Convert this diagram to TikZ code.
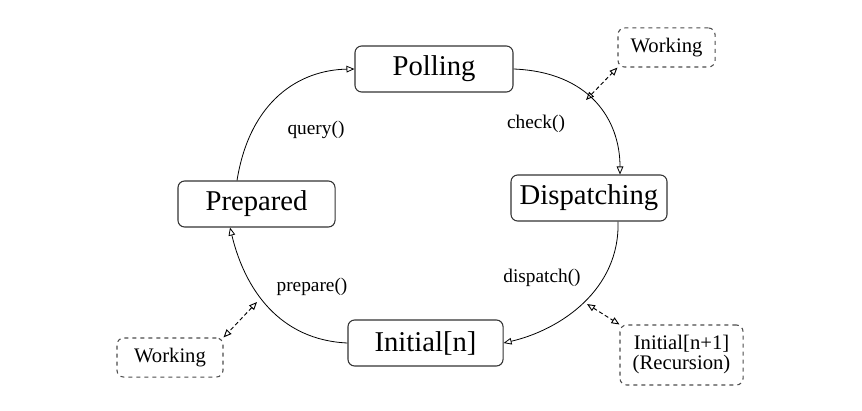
\documentclass[tikz,border=0pt]{standalone}
\usepackage{fontspec}
\setmainfont{Liberation Serif}
\usetikzlibrary{arrows.meta}
\begin{document}
\begin{tikzpicture}[x=0.75pt,y=-0.75pt,
 st/.style={draw=black!80,rounded corners=5pt,line width=0.8pt,fill=white,inner sep=0pt,font=\fontsize{21.5}{23}\selectfont},
 wk/.style={draw=black!70,dashed,rounded corners=5pt,line width=0.8pt,inner sep=0pt,font=\fontsize{15.5}{15}\selectfont,align=center},
 tr/.style={line width=0.6pt,-{Triangle[open,length=6pt,width=5pt]}},
 dd/.style={line width=0.7pt,dash pattern=on 3pt off 2pt,{Triangle[open,length=6pt,width=5pt]}-{Triangle[open,length=6pt,width=5pt]}},
 lb/.style={font=\fontsize{14.5}{16}\selectfont}]
\useasboundingbox (0,0) rectangle (862,410);
\node[st,minimum width=118.5pt,minimum height=34.5pt] (poll) at (434,69) {Polling};
\node[st,minimum width=117.8pt,minimum height=34.5pt] (prep) at (256.5,204) {Prepared};
\node[st,minimum width=117pt,minimum height=34.5pt] (disp) at (589,198) {Dispatching};
\node[st,minimum width=116.3pt,minimum height=34.5pt] (init) at (425.5,343) {Initial[n]};
\node[wk,minimum width=72.8pt,minimum height=29.3pt] (w1) at (666.5,47.5) {Working};
\node[wk,minimum width=79.5pt,minimum height=29.3pt] (w2) at (170,357.5) {Working};
\node[wk,minimum width=92.3pt,minimum height=45pt] (rec) at (681.5,355) {Initial[n+1]\\(Recursion)};
\draw[tr] (poll.east) .. controls (590,72) and (620,120) .. (disp.north-|620,0);
\draw[tr] (disp.south-|618,0) .. controls (620,290) and (560,330) .. (init.east);
\draw[tr] (init.west) .. controls (280,340) and (245,290) .. (prep.south-|230,0);
\draw[tr] (prep.north-|237,0) .. controls (250,100) and (300,70) .. (poll.west);
\coordinate (a1) at (586,100);
\coordinate (a2) at (257,302);
\coordinate (a3) at (587,304);
\draw[dd] (a1) -- (w1.south west);
\draw[dd] (a2) -- (w2.north east);
\draw[dd] (a3) -- (rec.north west);
\node[lb] (l1) at (316,130) {query()};
\node[lb] (l2) at (536,124) {check()};
\node[lb] (l3) at (542,278) {dispatch()};
\node[lb] (l4) at (312,287) {prepare()};
\end{tikzpicture}
\end{document}
